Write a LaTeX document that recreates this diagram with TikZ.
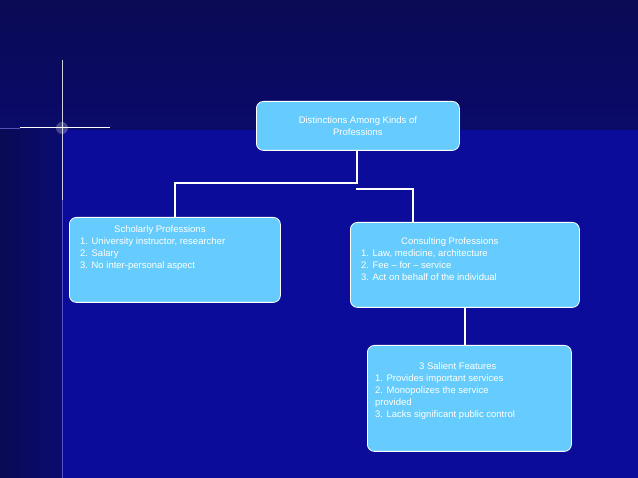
\documentclass[tikz,border=0pt]{standalone}
\usepackage{fontspec}
\setmainfont{Liberation Sans}
\begin{document}
\begin{tikzpicture}[x=1pt,y=-1pt,
  box/.style={draw=white,line width=0.8pt,fill=boxblue,rounded corners=7pt,text=white,font=\fontsize{9.5}{12}\selectfont,inner sep=0pt},
  conn/.style={draw=white,line width=1.6pt}]
\definecolor{boxblue}{HTML}{66CCFF}
\definecolor{bgdark}{HTML}{0A0A55}
\definecolor{bgmid}{HTML}{0C0C9A}
\useasboundingbox (0,0) rectangle (638,478);
\fill[bgmid] (0,0) rectangle (638,478);
\shade[top color=bgdark,bottom color=bgdark!70!bgmid] (0,0) rectangle (638,130);
\shade[left color=bgdark,right color=bgdark!60!bgmid] (0,130) rectangle (62,478);
% flare
\fill[white,opacity=0.25] (62,128) circle (6);
\draw[white,line width=1pt] (20,128) -- (110,128);
\draw[white,line width=0.8pt,opacity=0.8] (62,60) -- (62,200);
\draw[white!60!blue,line width=0.5pt,opacity=0.5] (0,128) -- (20,128) (62,200) -- (62,478);
% boxes
\node[box,minimum width=203,minimum height=49,anchor=north west,align=center] (top) at (256,101) {Distinctions Among Kinds of\\Professions};
\node[box,minimum width=211,minimum height=85,anchor=north west] (sch) at (69,217) {};
\node[anchor=north west,text=white,font=\fontsize{9.5}{12}\selectfont,align=left,inner sep=0pt] (scht) at (80,225) {\hspace*{34pt}Scholarly Professions\\1. University instructor, researcher\\2. Salary\\3. No inter-personal aspect};
\node[box,minimum width=229,minimum height=85,anchor=north west] (con) at (350,222) {};
\node[anchor=north west,text=white,font=\fontsize{9.5}{12}\selectfont,align=left,inner sep=0pt] (cont) at (361,237) {\hspace*{40pt}Consulting Professions\\1. Law, medicine, architecture\\2. Fee -- for -- service\\3. Act on behalf of the individual};
\node[box,minimum width=204,minimum height=106,anchor=north west] (sal) at (367,345) {};
\node[anchor=north west,text=white,font=\fontsize{9.5}{12}\selectfont,align=left,inner sep=0pt] (salt) at (375,362) {\hspace*{44pt}3 Salient Features\\1. Provides important  services\\2. Monopolizes the service\\provided\\3. Lacks significant public control};
% connectors
\coordinate (j1) at (357,183);
\coordinate (j2) at (356,189);
\draw[conn] (top.south -| j1) -- (j1) -| (175,217);
\draw[conn] (j2) -| (413,222);
\draw[conn] (465,307) -- (465,345);
\end{tikzpicture}
\end{document}
